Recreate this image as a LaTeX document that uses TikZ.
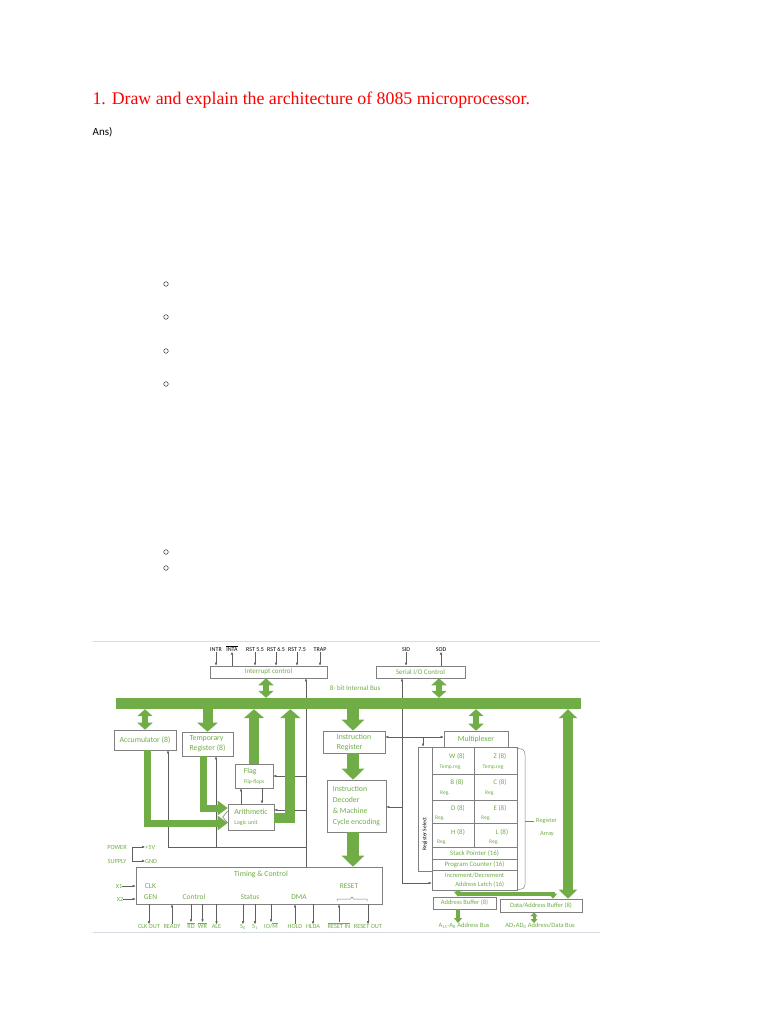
\documentclass[tikz,border=0pt]{standalone}
\usepackage{fontspec}
\setmainfont{Carlito}
\newfontfamily\headfont{Liberation Serif}
\usetikzlibrary{arrows.meta}

\definecolor{busgreen}{RGB}{112,173,71}
\definecolor{boxline}{RGB}{128,128,128}
\definecolor{wireline}{RGB}{95,95,95}
\definecolor{rulegray}{RGB}{214,220,228}

\tikzset{
  blk/.style={draw=boxline, line width=0.6pt, fill=white, text=busgreen, inner sep=0pt,
    font=\fontsize{7.8}{10}\selectfont},
  lbl/.style={text=busgreen, inner sep=0pt, font=\fontsize{6.5}{7}\selectfont},
  tinylbl/.style={text=busgreen, inner sep=0pt, font=\fontsize{5.5}{6}\selectfont},
  sig/.style={text=black, inner sep=0pt, anchor=base, font=\fontsize{6}{7}\selectfont},
  gsig/.style={text=busgreen, inner sep=0pt, font=\fontsize{6.3}{7}\selectfont},
  ring/.style={draw=black!75, line width=0.55pt},
  wire/.style={draw=wireline, line width=0.5pt},
  arw/.style={-{Latex[length=3pt,width=2.6pt]}},
  arw2/.style={{Latex[length=3pt,width=2.6pt]}-{Latex[length=3pt,width=2.6pt]}},
  fat/.style={draw=busgreen, line width=10pt, -{Triangle[length=9pt,width=20pt]}},
  fatin/.style={draw=busgreen, line width=7pt, -{Triangle[length=10pt,width=14pt]}},
  widearrow/.style={draw=busgreen, line width=12pt, -{Triangle[length=11pt,width=22pt]}},
  dbl/.style={draw=busgreen, line width=6pt,
    {Triangle[length=7pt,width=15pt]}-{Triangle[length=7pt,width=15pt]}},
  longdbl/.style={draw=busgreen, line width=10pt,
    {Triangle[length=9pt,width=18pt]}-{Triangle[length=9pt,width=18pt]}},
  feedarrow/.style={draw=busgreen, line width=3.5pt, -{Triangle[length=5pt,width=8pt]}},
  feeddbl/.style={draw=busgreen, line width=3pt,
    {Triangle[length=4pt,width=7pt]}-{Triangle[length=4pt,width=7pt]}},
}

\begin{document}
\begin{tikzpicture}[x=1pt,y=-1pt]
\useasboundingbox (0,0) rectangle (768,1024);

% question
\node[anchor=base west, inner sep=0pt, text=red, font=\headfont\fontsize{17.8}{21}\selectfont]
  (question) at (92.3,105) {1. Draw and explain the architecture of 8085 microprocessor.};
\node[anchor=base west, inner sep=0pt, font=\fontsize{11}{13}\selectfont] (answer) at (92.5,135.5) {Ans)};

% empty list bullets
\draw[ring] (166,284) circle (2.3);
\draw[ring] (166,317) circle (2.3);
\draw[ring] (166,351) circle (2.3);
\draw[ring] (166,384) circle (2.3);
\draw[ring] (166,552) circle (2.3);
\draw[ring] (166,568) circle (2.3);

% border of the figure
\draw[rulegray, line width=1pt] (93,641.5) -- (600,641.5);
\draw[rulegray, line width=1pt] (93,932) -- (600,932);

% blocks
\node[blk, minimum width=117pt, minimum height=12pt, font=\fontsize{7}{8}\selectfont] (intc) at (268.5,672) {Interrupt control};
\node[blk, minimum width=89pt, minimum height=12pt, font=\fontsize{7}{8}\selectfont] (sio) at (420.5,672) {Serial I/O Control};
\node[blk, minimum width=62pt, minimum height=20pt] (acc) at (145,740) {Accumulator (8)};
\node[blk, minimum width=51pt, minimum height=24pt, align=left] (tmp) at (207.5,744) {Temporary\\Register (8)};
\node[blk, minimum width=38pt, minimum height=24pt, align=left] (flag) at (254,776)
  {Flag\\{\fontsize{5.5}{6}\selectfont Flip-flops}};
\node[blk, minimum width=46pt, minimum height=26pt, align=left] (alu) at (251,817)
  {Arithmetic\\{\fontsize{6}{7}\selectfont Logic unit}};
\node[blk, minimum width=62pt, minimum height=22pt, align=left] (ir) at (354,742) {Instruction\\Register};
\node[blk, minimum width=59pt, minimum height=52pt, align=left, font=\fontsize{7.8}{11.3}\selectfont]
  (id) at (356.5,806) {Instruction\\Decoder\\\& Machine\\Cycle encoding};
\node[blk, minimum width=246pt, minimum height=37pt] (tc) at (259,885.5) {};
\node[blk, minimum width=64pt, minimum height=16pt] (mux) at (476,739) {Multiplexer};
\node[blk, minimum width=14pt, minimum height=124pt] (rsel) at (425,809) {};
\node[rotate=90, inner sep=0pt, font=\fontsize{5.5}{6}\selectfont] (rseltext) at (425,834) {Register Select};

% register array
\node[blk, minimum width=42.5pt, minimum height=27pt] (regW) at (453.25,760.5) {};
\node[blk, minimum width=42.5pt, minimum height=27pt] (regZ) at (495.75,760.5) {};
\node[blk, minimum width=42.5pt, minimum height=26pt] (regB) at (453.25,787) {};
\node[blk, minimum width=42.5pt, minimum height=26pt] (regC) at (495.75,787) {};
\node[blk, minimum width=42.5pt, minimum height=23pt] (regD) at (453.25,811.5) {};
\node[blk, minimum width=42.5pt, minimum height=23pt] (regE) at (495.75,811.5) {};
\node[blk, minimum width=42.5pt, minimum height=24pt] (regH) at (453.25,835) {};
\node[blk, minimum width=42.5pt, minimum height=24pt] (regL) at (495.75,835) {};
\node[blk, minimum width=85pt, minimum height=12pt, font=\fontsize{6.8}{8}\selectfont] (sp) at (474.5,853) {Stack Pointer (16)};
\node[blk, minimum width=85pt, minimum height=11pt, font=\fontsize{6.8}{8}\selectfont] (pc) at (474.5,864.5) {Program Counter (16)};
\node[blk, minimum width=85pt, minimum height=20pt, align=right, font=\fontsize{6.5}{9}\selectfont]
  (latch) at (474.5,880) {Increment/Decrement\\Address Latch (16)};
\node[blk, minimum width=63pt, minimum height=12pt, font=\fontsize{6.5}{8}\selectfont] (abuf) at (464.5,903) {Address Buffer (8)};
\node[blk, minimum width=82pt, minimum height=13pt, font=\fontsize{6.5}{8}\selectfont] (dabuf) at (541,905.5) {Data/Address Buffer (8)};

\node[lbl, font=\fontsize{7}{8}\selectfont] at (457,756) {W (8)};
\node[tinylbl] at (450,767) {Temp.reg};
\node[lbl, font=\fontsize{7}{8}\selectfont] at (500,756) {Z (8)};
\node[tinylbl] at (493,767) {Temp.reg};
\node[lbl, font=\fontsize{7}{8}\selectfont] at (457,782) {B (8)};
\node[tinylbl] at (445,793) {Reg.};
\node[lbl, font=\fontsize{7}{8}\selectfont] at (500,782) {C (8)};
\node[tinylbl] at (490,793) {Reg.};
\node[lbl, font=\fontsize{7}{8}\selectfont] at (458,808) {D (8)};
\node[tinylbl] at (440,818) {Reg.};
\node[lbl, font=\fontsize{7}{8}\selectfont] at (500,808) {E (8)};
\node[tinylbl] at (486,818) {Reg.};
\node[lbl, font=\fontsize{7}{8}\selectfont] at (458,832) {H (8)};
\node[tinylbl] at (442,842) {Reg.};
\node[lbl, font=\fontsize{7}{8}\selectfont] at (502,832) {L (8)};
\node[tinylbl] at (494,842) {Reg.};

% register array brace
\draw[wire, draw=boxline] (517,748.5) .. controls (523,748.5) and (525,750) .. (525,755)
  -- (525,884) .. controls (525,888) and (523,889.5) .. (517,889.5);
\draw[wire, draw=boxline] (525,821) -- (534,821);
\node[lbl, anchor=west, font=\fontsize{6.3}{7}\selectfont] (regarr) at (536,821) {Register};
\node[lbl, font=\fontsize{6.3}{7}\selectfont] (regarr2) at (547,834) {Array};

% timing and control texts
\node[lbl, font=\fontsize{7.8}{9}\selectfont] (tctitle) at (261,874) {Timing \& Control};
\node[lbl, font=\fontsize{7.5}{9}\selectfont] (clk) at (150.5,886) {CLK};
\node[lbl, font=\fontsize{7.5}{9}\selectfont] (gen) at (150.5,897) {GEN};
\node[lbl, font=\fontsize{7.5}{9}\selectfont] (ctrl) at (194,897) {Control};
\node[lbl, font=\fontsize{7.5}{9}\selectfont] (stat) at (250,897) {Status};
\node[lbl, font=\fontsize{7.5}{9}\selectfont] (dma) at (299,897) {DMA};
\node[lbl, font=\fontsize{7.5}{9}\selectfont] (rst) at (349,886) {RESET};
\draw[wire, draw=boxline] (337,901) -- (337,899) -- (350.5,899) -- (352,897) -- (353.5,899) -- (367,899) -- (367,901);

% interrupt pins
\node[sig] (intr) at (216,651.5) {INTR};
\node[sig] (inta) at (232,651.5) {$\overline{\mbox{INTA}}$};
\node[sig] (rst55) at (255,651.5) {RST 5.5};
\node[sig] (rst65) at (276,651.5) {RST 6.5};
\node[sig] (rst75) at (297,651.5) {RST 7.5};
\node[sig] (trap) at (320,651.5) {TRAP};
\draw[wire,arw] (intr.south) -- (intr.south |- intc.north);
\draw[wire,arw] (inta.south |- intc.north) -- (inta.south);
\draw[wire,arw] (rst55.south) -- (rst55.south |- intc.north);
\draw[wire,arw] (rst65.south) -- (rst65.south |- intc.north);
\draw[wire,arw] (rst75.south) -- (rst75.south |- intc.north);
\draw[wire,arw] (trap.south) -- (trap.south |- intc.north);

% serial pins
\node[sig] (sid) at (406,651.5) {SID};
\node[sig] (sod) at (441,651.5) {SOD};
\draw[wire,arw] (sid.south) -- (sid.south |- sio.north);
\draw[wire,arw] (sod.south |- sio.north) -- (sod.south);

% control lines from timing & control
\coordinate (ctl) at (306,847);
\coordinate (aluctl) at ([yshift=7pt]alu.east);
\coordinate (accin) at ([xshift=23pt]acc.south);
\coordinate (tmpin) at ([xshift=8.5pt]tmp.south);
\draw[wire,arw] (ctl |- tc.north) -- (ctl |- intc.south);
\draw[wire,arw] (ctl |- flag.east) -- (flag.east);
\draw[wire,arw] (ctl |- aluctl) -- (aluctl);
\draw[wire] (ctl) -- (ctl -| accin);
\draw[wire,arw] (ctl -| accin) -- (accin);
\draw[wire,arw] (ctl -| tmpin) -- (tmpin);

% flag and alu
\coordinate (flagin) at ([xshift=-13pt]flag.south);
\coordinate (aluin) at ([xshift=8pt]flag.south);
\draw[wire,arw] (flagin |- alu.north) -- (flagin);
\draw[wire,arw] (aluin) -- (aluin |- alu.north);

% lines from serial control side
\coordinate (sel) at (402,807);
\coordinate (latchin) at ([yshift=-3pt]latch.west);
\coordinate (irmux) at (423,737);
\draw[wire,arw] (sel |- latchin) -- (sel |- sio.south);
\draw[wire,arw] (sel |- latchin) -- (latchin);
\draw[wire,arw] (sel) -- (sel -| id.east);
\draw[wire,arw2] (irmux -| ir.east) -- (irmux -| mux.west);
\draw[wire,arw] (irmux) -- (irmux |- rsel.north);

% clock and power
\node[gsig] (x1) at (119,886) {X1};
\node[gsig] (x2) at (120,899) {X2};
\draw[wire,arw] (x1.east) -- (x1.east -| tc.west);
\draw[wire,arw] (x2.east) -- (x2.east -| tc.west);
\node[gsig] (power) at (117,847) {POWER};
\node[gsig] (supply) at (117,861) {SUPPLY};
\node[gsig, anchor=west] (vcc) at (145,847) {+5V};
\node[gsig, anchor=west] (gnd) at (145,861) {GND};
\coordinate (pwr) at (132,847);
\draw[wire,arw] (pwr |- gnd.west) -- (pwr) -- (vcc.west);
\draw[wire,arw] (pwr |- gnd.west) -- (gnd.west);

% bottom pins
\node[gsig, anchor=base] (clkout) at (149,928.5) {CLK OUT};
\node[gsig, anchor=base] (ready) at (172,928.5) {READY};
\node[gsig, anchor=base] (rd) at (191,928.5) {$\overline{\mbox{RD}}$};
\node[gsig, anchor=base] (wr) at (202.5,928.5) {$\overline{\mbox{WR}}$};
\node[gsig, anchor=base] (ale) at (216.5,928.5) {ALE};
\node[gsig, anchor=base] (s0) at (243,928.5) {S\textsubscript{0}};
\node[gsig, anchor=base] (s1) at (255,928.5) {S\textsubscript{1}};
\node[gsig, anchor=base] (iom) at (271,928.5) {IO/$\overline{\mbox{M}}$};
\node[gsig, anchor=base] (hold) at (295,928.5) {HOLD};
\node[gsig, anchor=base] (hlda) at (313,928.5) {HLDA};
\node[gsig, anchor=base] (resetin) at (339,928.5) {$\overline{\mbox{RESET IN}}$};
\node[gsig, anchor=base] (resetout) at (368,928.5) {RESET OUT};
\draw[wire,arw] (clkout.north |- tc.south) -- (clkout.north);
\draw[wire,arw] (ready.north) -- (ready.north |- tc.south);
\draw[wire,arw] (rd.north |- tc.south) -- (rd.north);
\draw[wire,arw] (wr.north |- tc.south) -- (wr.north);
\draw[wire,arw] (ale.north |- tc.south) -- (ale.north);
\draw[wire,arw] (s0.north |- tc.south) -- (s0.north);
\draw[wire,arw] (s1.north |- tc.south) -- (s1.north);
\draw[wire,arw] (iom.north |- tc.south) -- (iom.north);
\draw[wire,arw] (hold.north) -- (hold.north |- tc.south);
\draw[wire,arw] (hlda.north |- tc.south) -- (hlda.north);
\draw[wire,arw] (resetin.north) -- (resetin.north |- tc.south);
\draw[wire,arw] (resetout.north |- tc.south) -- (resetout.north);

% internal bus
\node[fill=busgreen, inner sep=0pt, minimum width=465pt, minimum height=11pt] (bus) at (348.5,703.5) {};
\node[lbl, font=\fontsize{7}{8}\selectfont] (buslabel) at (355,688.5) {8- bit Internal Bus};

% green data paths
\coordinate (intbus) at ([xshift=-2.5pt]intc.south);
\coordinate (siobus) at ([xshift=18.5pt]sio.south);
\draw[dbl] (intbus) -- (intbus |- bus.north);
\draw[dbl] (siobus) -- (siobus |- bus.north);
\draw[dbl] (acc.north) -- (acc.north |- bus.south);
\draw[fat] (tmp.north |- bus.south) -- (tmp.north);
\draw[fat] (flag.north) -- (flag.north |- bus.south);
\coordinate (aluout) at ([yshift=-1pt]alu.east);
\coordinate (alurise) at ([xshift=16pt]alu.east);
\draw[fat] (aluout) -| (alurise |- bus.south);
\coordinate (tmpout) at ([xshift=-4.5pt]tmp.south);
\coordinate (aluinA) at ([yshift=9pt]alu.west);
\draw[fatin] (tmpout) |- (aluinA);
\coordinate (accout) at ([xshift=2pt]acc.south);
\coordinate (aluinB) at ([yshift=-6pt]alu.west);
\draw[fatin] (accout) |- (aluinB);
\draw[draw=boxline, line width=0.6pt, fill=white] ([yshift=6pt]alu.west) -- ([xshift=-5pt]alu.west) -- ([yshift=-6pt]alu.west);

\coordinate (irx) at (353,742);
\draw[widearrow] (irx |- bus.south) -- (irx |- ir.north);
\draw[widearrow] (irx |- ir.south) -- (irx |- id.north);
\draw[widearrow] (irx |- id.south) -- (irx |- tc.north);
\draw[dbl] (mux.north |- bus.south) -- (mux.north);
\coordinate (dbus) at ([xshift=27pt]dabuf.north);
\draw[longdbl] (dbus) -- (dbus |- bus.south);

% address latch to the buffers
\coordinate (lout) at ([xshift=-16.5pt]latch.south);
\coordinate (lsplit) at ([yshift=-3.5pt]lout);
\coordinate (dain) at ([xshift=12pt]dabuf.north);
\draw[feedarrow] (lout) -- (lout |- abuf.north);
\draw[feedarrow] (lsplit) -| (dain);

% external buses
\node[lbl] (abus) at (464,926) {A\textsubscript{15}-A\textsubscript{8} Address Bus};
\node[lbl] (adbus) at (540,926) {AD\textsubscript{7}AD\textsubscript{0} Address/Data Bus};
\draw[feedarrow] (lout |- abuf.south) -- (lout |- abus.north);
\coordinate (adx) at ([xshift=-7pt]dabuf.south);
\draw[feeddbl] (adx) -- (adx |- adbus.north);
\end{tikzpicture}
\end{document}
